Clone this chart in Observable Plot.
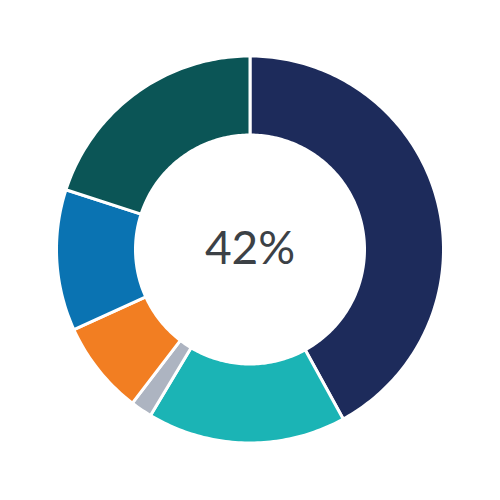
<!DOCTYPE html>
<html>
<head>
<meta charset="utf-8">
<script src="https://cdn.jsdelivr.net/npm/d3@7"></script>
<script src="https://cdn.jsdelivr.net/npm/@observablehq/plot@0.6"></script>
<style>
  html, body { margin: 0; padding: 0; background: #fff; }
</style>
</head>
<body>
<div id="chart"></div>
<script>
const categories = ["A", "B", "C", "D", "E", "F"];
const values = [42.0, 16.6, 1.8, 7.8, 11.8, 20.0];
const colors = ["#1d2b5b", "#1bb4b5", "#adb4c1", "#f27e22", "#0a73b2", "#0b5556"];
const centerLabel = "42%";

const R_OUT = 193.5, R_IN = 114.5;
const pie = d3.pie().sort(null).value(d => d.value)(
  categories.map((c, i) => ({cat: c, value: values[i]}))
);
const pts = [];
for (const a of pie) {
  const n = Math.max(4, Math.ceil((a.endAngle - a.startAngle) * 60));
  for (let k = 0; k <= n; k++) {
    const t = a.startAngle + (a.endAngle - a.startAngle) * k / n;
    pts.push({cat: a.data.cat, x: R_OUT * Math.sin(t), y: -R_OUT * Math.cos(t)});
  }
  for (let k = n; k >= 0; k--) {
    const t = a.startAngle + (a.endAngle - a.startAngle) * k / n;
    pts.push({cat: a.data.cat, x: R_IN * Math.sin(t), y: -R_IN * Math.cos(t)});
  }
}

const chart = Plot.plot({
  width: 500,
  height: 500,
  margin: 0,
  x: {domain: [-249.5, 250.5], range: [0, 500], axis: null},
  y: {domain: [-249, 251], range: [0, 500], axis: null},
  color: {domain: categories, range: colors},
  marks: [
    Plot.line(pts, {x: "x", y: "y", z: "cat", fill: "cat", stroke: "white", strokeWidth: 3, curve: "linear-closed"}),
    Plot.text([centerLabel], {x: () => 0, y: () => 0, text: d => d, fontSize: 46, fontFamily: "Lato", fill: "#3c4146", textAnchor: "middle", lineAnchor: "middle"})
  ]
});
document.getElementById("chart").appendChild(chart);
</script>
</body>
</html>
